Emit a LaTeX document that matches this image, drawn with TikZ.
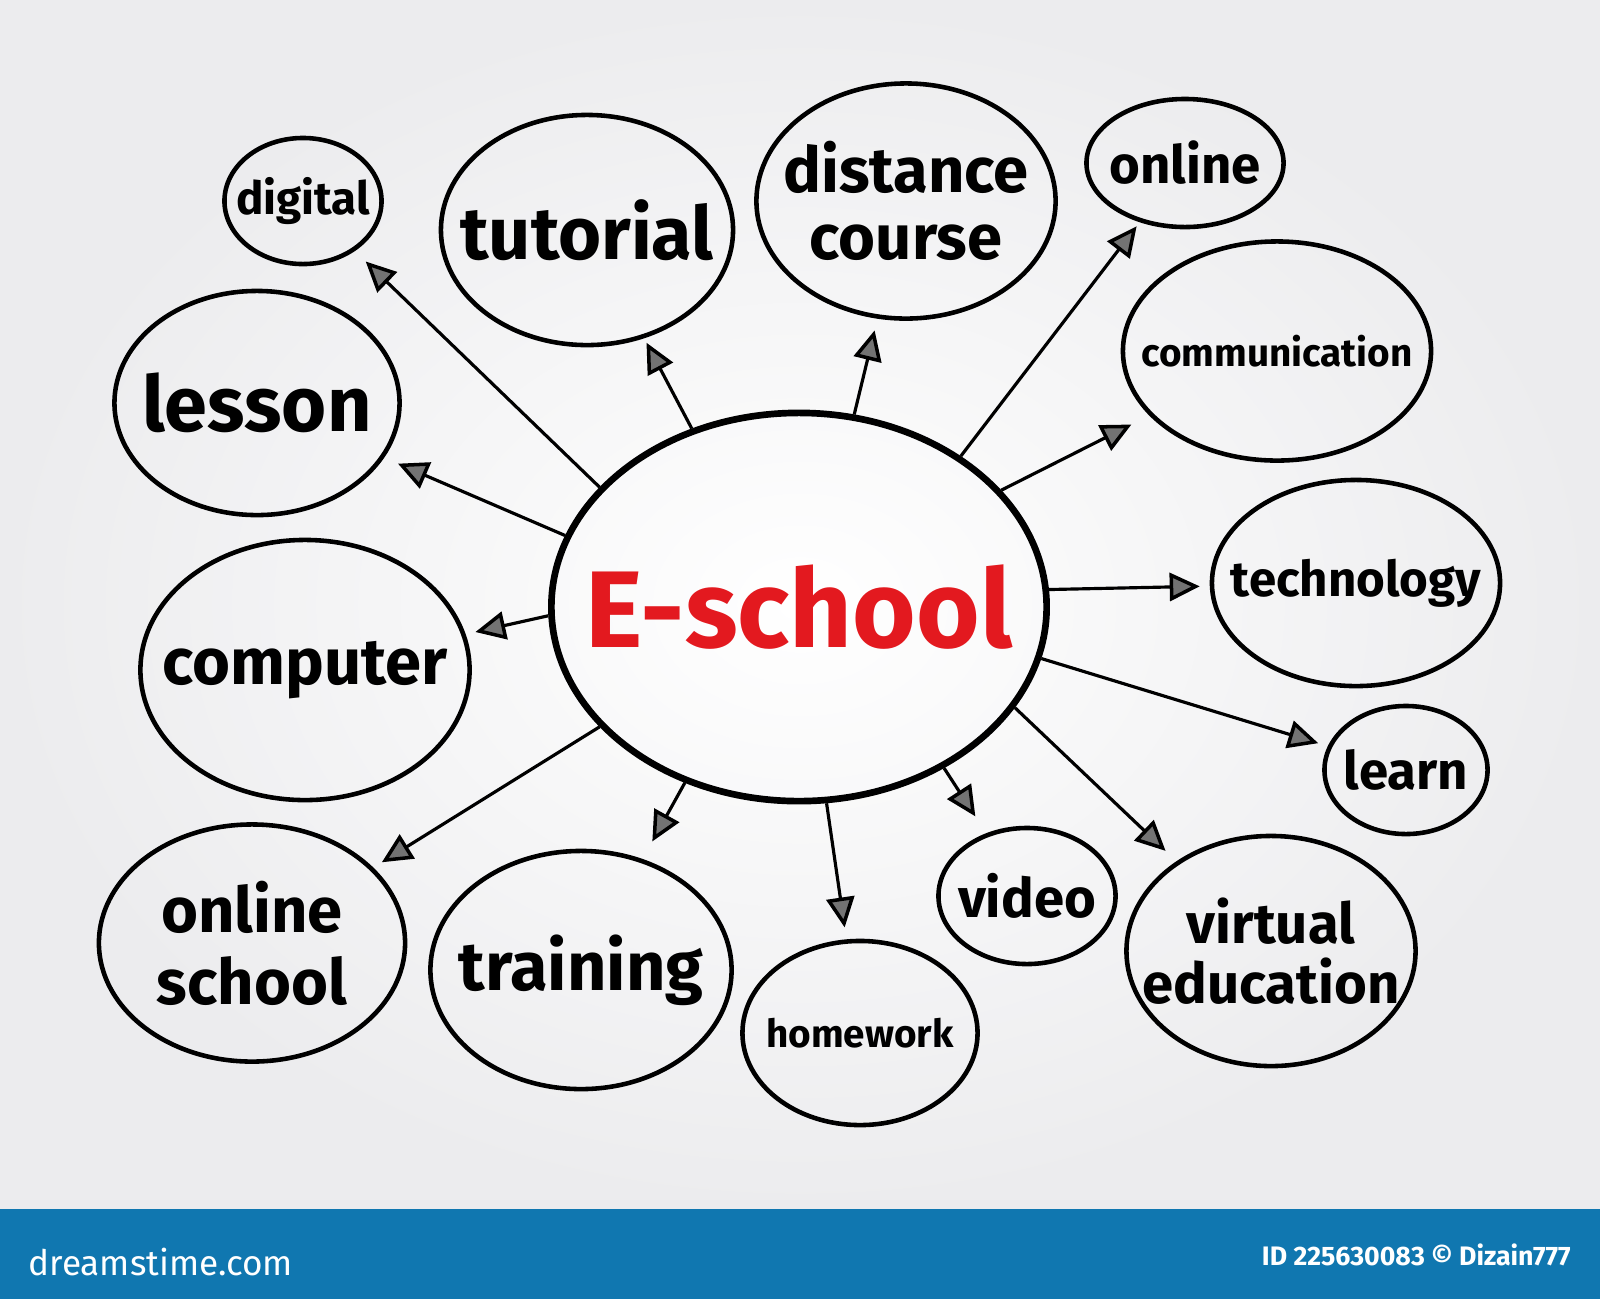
\documentclass[tikz,border=0pt]{standalone}
\usepackage{fontspec}
\setmainfont{Fira Sans}
\usetikzlibrary{shapes.geometric,arrows.meta}
\definecolor{eRed}{HTML}{E3191F}
\definecolor{barBlue}{HTML}{1077B0}
\definecolor{bgGray}{HTML}{ECECEE}
\tikzset{
  bubble/.style={draw,ellipse,line width=1.3pt,inner sep=-1cm,align=center},
  hub/.style={draw,ellipse,line width=1.9pt,inner sep=-1cm,text=eRed},
  spoke/.style={line width=0.9pt,-{Triangle[length=3mm,width=2.8mm,fill=black!55,line width=1pt]},shorten >=1.5mm},
}

\begin{document}
\begin{tikzpicture}[x=0.01cm,y=-0.01cm]
\useasboundingbox (0,0) rectangle (1600,1299);
\shade[inner color=white,outer color=bgGray] (0,0) rectangle (1600,1209);
\fill[barBlue] (0,1209) rectangle (1600,1299);

% centre
\node[hub,minimum width=4.95cm,minimum height=3.88cm,font=\bfseries\fontsize{31}{31}\selectfont] (school) at (799,607) {E-school};

% bubbles round it
\node[bubble,minimum width=1.57cm,minimum height=1.26cm,font=\bfseries\fontsize{13}{13}\selectfont] (digital) at (303,201) {digital};
\node[bubble,minimum width=2.92cm,minimum height=2.30cm,font=\bfseries\fontsize{21}{21}\selectfont] (tutorial) at (587,230) {tutorial};
\node[bubble,minimum width=2.99cm,minimum height=2.35cm,font=\bfseries\fontsize{18}{19}\selectfont] (distance) at (906,201) {distance\\course};
\node[bubble,minimum width=1.97cm,minimum height=1.28cm,font=\bfseries\fontsize{15}{15}\selectfont] (online) at (1185,163) {online};
\node[bubble,minimum width=3.08cm,minimum height=2.19cm,font=\bfseries\fontsize{11}{11}\selectfont] (comm) at (1277,351) {communication};
\node[bubble,minimum width=2.85cm,minimum height=2.24cm,font=\bfseries\fontsize{22}{22}\selectfont] (lesson) at (257,403) {lesson};
\node[bubble,minimum width=2.88cm,minimum height=2.06cm,font=\bfseries\fontsize{14}{14}\selectfont] (tech) at (1356,583) {technology};
\node[bubble,minimum width=3.29cm,minimum height=2.60cm,font=\bfseries\fontsize{18.5}{18.5}\selectfont] (computer) at (305,670) {computer};
\node[bubble,minimum width=1.63cm,minimum height=1.28cm,font=\bfseries\fontsize{15}{15}\selectfont] (learn) at (1406,770) {learn};
\node[bubble,minimum width=3.06cm,minimum height=2.37cm,font=\bfseries\fontsize{18}{20.5}\selectfont] (oschool) at (252,943) {online\\school};
\node[bubble,minimum width=3.01cm,minimum height=2.38cm,font=\bfseries\fontsize{19.5}{19.5}\selectfont] (training) at (581,970) {training};
\node[bubble,minimum width=2.35cm,minimum height=1.84cm,font=\bfseries\fontsize{11}{11}\selectfont] (homework) at (860,1033) {homework};
\node[bubble,minimum width=1.77cm,minimum height=1.36cm,font=\bfseries\fontsize{15.5}{15.5}\selectfont] (video) at (1027,896) {video};
\node[bubble,minimum width=2.89cm,minimum height=2.30cm,font=\bfseries\fontsize{16}{17}\selectfont] (virtual) at (1271,951) {virtual\\education};

% arrows out of the centre
\draw[spoke] (school.149) -- (digital);
\draw[spoke,shorten >=0.5mm] (school.121) -- (tutorial);
\draw[spoke,shorten >=1.2mm] (school.74) -- (distance);
\draw[spoke,shorten >=0.5mm] (school.43) -- (online);
\draw[spoke,shorten >=2mm] (school.30) -- (comm);
\draw[spoke] (school.163) -- (lesson);
\draw[spoke,shorten >=1mm] (school.4) -- (tech);
\draw[spoke,shorten >=1mm] (school.182) -- (computer);
\draw[spoke,shorten >=1mm] (school.-12) -- (learn);
\draw[spoke,shorten >=1mm] (school.211) -- (oschool);
\draw[spoke,shorten >=2mm] (school.237) -- (training);
\draw[spoke,shorten >=1.2mm] (school.278) -- (homework);
\draw[spoke,shorten >=2mm] (school.312) -- (video);
\draw[spoke] (school.335) -- (virtual);

% footer
\node[font=\fontsize{10}{10}\selectfont,text=white,anchor=west] (brand) at (16,1262) {dreamstime.com};
\node[font=\bfseries\fontsize{7.6}{7.6}\selectfont,text=white,anchor=east] (credit) at (1583,1255) {ID 225630083 © Dizain777};
\end{tikzpicture}
\end{document}
